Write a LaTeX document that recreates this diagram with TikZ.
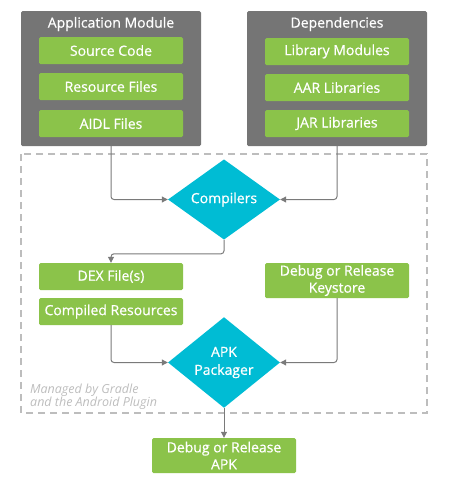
\documentclass[tikz,border=0pt]{standalone}
\usepackage{fontspec}
\setmainfont{Open Sans}
\newfontfamily\medfont{Open Sans}[FakeBold=0.6]
\usetikzlibrary{shapes.geometric,arrows.meta}
\definecolor{boxgray}{HTML}{757575}
\definecolor{agreen}{HTML}{8BC34A}
\definecolor{acyan}{HTML}{00BCD4}
\definecolor{dashgray}{HTML}{BDBDBD}
\definecolor{linegray}{HTML}{7A7A7A}
\tikzset{
  txt/.style={font=\medfont\fontsize{14}{15}\selectfont, text=white},
  greenbox/.style={txt, fill=agreen, rounded corners=1.5pt, minimum width=144pt, minimum height=27pt, inner sep=0pt, align=center},
  tallgreen/.style={greenbox, minimum height=35pt, font=\medfont\fontsize{14}{17}\selectfont},
  groupbox/.style={fill=boxgray, rounded corners=1.5pt},
  dia/.style={txt, diamond, fill=acyan, inner sep=0pt, minimum width=112pt, align=center},
  diatall/.style={dia, font=\medfont\fontsize{14}{18}\selectfont},
  conn/.style={draw=linegray, line width=1pt, rounded corners=3pt, -{Triangle[width=6pt,length=6pt]}},
  frame/.style={draw=dashgray, line width=1.5pt, dash pattern=on 7pt off 5pt},
  note/.style={font=\fontsize{12.5}{13}\selectfont\itshape, text=dashgray, align=left, anchor=north west, inner sep=0pt}
}
\begin{document}
\begin{tikzpicture}[x=1pt,y=-1pt]
\useasboundingbox (0,0) rectangle (451,483);
% groups
\fill[groupbox] (21,11) rectangle (201,146);
\fill[groupbox] (247,11) rectangle (427,146);
\node[txt] (apptitle) at (111,24) {Application Module};
\node[txt] (deptitle) at (337,24) {Dependencies};
\coordinate (appbot) at (111,146);
\coordinate (depbot) at (337,146);
\node[greenbox] (src) at (111,50.5) {Source Code};
\node[greenbox] (res) at (111,86.5) {Resource Files};
\node[greenbox] (aidl) at (111,123.5) {AIDL Files};
\node[greenbox] (lib) at (337,51.5) {Library Modules};
\node[greenbox] (aar) at (337,87.5) {AAR Libraries};
\node[greenbox] (jar) at (337,123.5) {JAR Libraries};
% managed frame
\draw[frame] (21,154) rectangle (427,413);
\node[note] (managed) at (30,384) {Managed by Gradle\\and the Android Plugin};
% compilers
\node[dia, minimum height=67pt] (comp) at (224,199.5) {Compilers};
\node[greenbox] (dex) at (111,276.5) {DEX File(s)};
\node[greenbox] (cres) at (111,311.5) {Compiled Resources};
\node[tallgreen] (keys) at (337,280.5) {Debug or Release\\Keystore};
\node[diatall, minimum height=69pt] (pack) at (224,362.5) {APK\\Packager};
\node[tallgreen] (apk) at (224,455.5) {Debug or Release\\APK};
% connectors
\draw[conn] (appbot) |- (comp.west);
\draw[conn] (depbot) |- (comp.east);
\draw[conn] (comp.south) -- ++(0,14) -| (dex.north);
\draw[conn] (cres.south) |- (pack.west);
\draw[conn] (keys.south) |- (pack.east);
\draw[conn] (pack.south) -- (apk.north);
\end{tikzpicture}
\end{document}
